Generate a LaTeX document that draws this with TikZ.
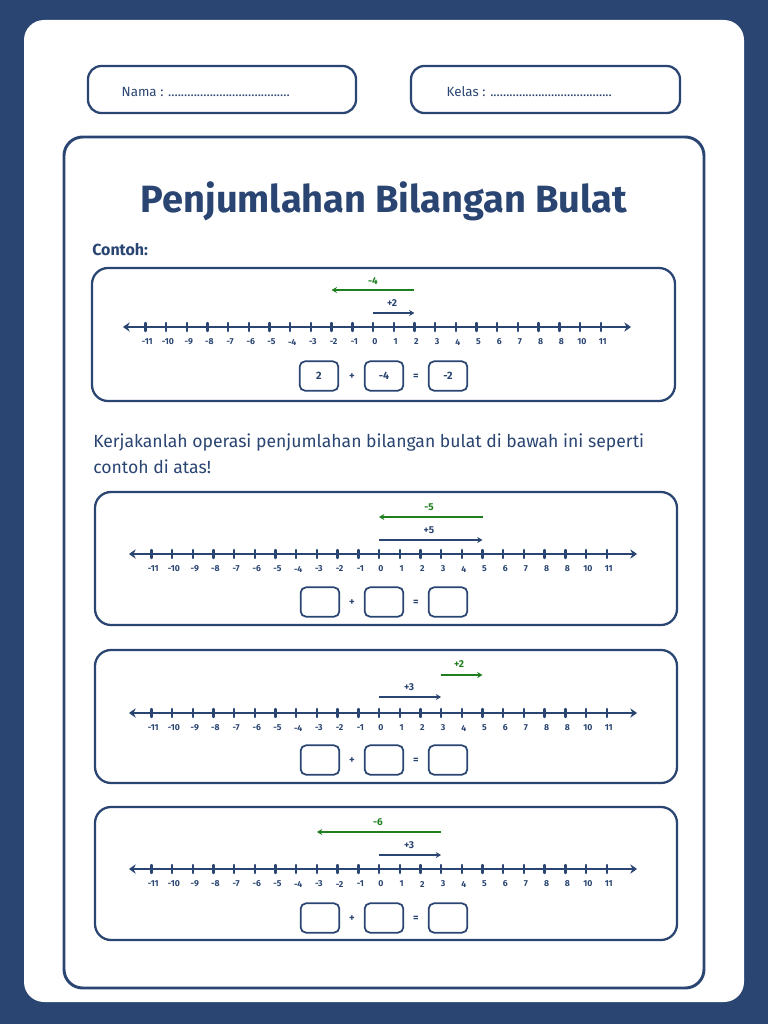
\documentclass[tikz,border=0pt]{standalone}
\usepackage{fontspec}
\setmainfont{Fira Sans}
\usetikzlibrary{arrows.meta}
\definecolor{navy}{HTML}{2A4572}
\definecolor{grn}{HTML}{1F7F1F}
\tikzset{
 frame/.style={draw=navy,line width=1.7pt,rounded corners=12pt,fill=white},
 ansbox/.style={draw=navy,line width=1.3pt,rounded corners=4pt,minimum width=29pt,minimum height=22pt,text=navy,font=\fontsize{8}{9}\selectfont\bfseries},
 lbl/.style={text=navy,font=\fontsize{6.5}{7}\selectfont\bfseries,inner sep=0pt},
 opl/.style={text=navy,font=\fontsize{8}{9}\selectfont\bfseries,inner sep=0pt},
 glbl/.style={text=grn,font=\fontsize{7.5}{8}\selectfont\bfseries,inner sep=0pt},
 axis/.style={draw=navy,line width=2pt,{Stealth[length=5pt,width=7pt]}-{Stealth[length=5pt,width=7pt]}},
 barrow/.style={draw=navy,line width=1.1pt,-{Stealth[length=4pt,width=4.5pt]}},
 garrow/.style={draw=grn,line width=1.1pt,-{Stealth[length=4pt,width=4.5pt]}},
}
\newcommand{\numline}[3]{% #1 prefix, #2 zero x, #3 line y
 \coordinate (#1L) at (#2-250,#3);
 \coordinate (#1R) at (#2+258,#3);
 \draw[axis] (#1L) -- (#1R);
 \foreach \k/\t in {-11/-11,-10/-10,-9/-9,-8/-8,-7/-7,-6/-6,-5/-5,-4/-4,-3/-3,-2/-2,-1/-1,0/0,1/1,2/2,3/3,4/4,5/5,6/6,7/7,8/8,9/8,10/10,11/11}{
  \coordinate (#1t\k) at ({#2+20.7*\k},#3);
  \draw[navy,line width=1.8pt,line cap=round] ({#2+20.7*\k},#3-4) -- ({#2+20.7*\k},#3+4);
  \node[lbl] (#1n\k) at ({#2+20.7*\k+2},#3+15) {\t};
 }
}
\begin{document}
\begin{tikzpicture}[x=0.75pt,y=-0.75pt]
\fill[navy] (0,0) rectangle (768,1024);
\useasboundingbox (0,0) rectangle (768,1024);
\fill[white,rounded corners=15pt] (24,20) rectangle (744,1002);
\draw[frame,rounded corners=10pt] (88,66) rectangle (356,113);
\draw[frame,rounded corners=10pt] (411,66) rectangle (680,113);
\node[text=navy,font=\fontsize{10}{12}\selectfont,anchor=west] (nama) at (117,92) {Nama : ......................................};
\node[text=navy,font=\fontsize{10}{12}\selectfont,anchor=west] (kelas) at (442,92) {Kelas : ......................................};
\draw[frame,line width=2.2pt,rounded corners=14pt] (64,137) rectangle (704,988);
\node[text=navy,font=\fontsize{28.5}{34}\selectfont\bfseries] (title) at (384,201) {Penjumlahan Bilangan Bulat};
\node[text=navy,font=\fontsize{12}{14}\selectfont\bfseries,anchor=west,inner sep=0pt] (contoh) at (92,250) {Contoh:};
\node[text=navy,font=\fontsize{13.2}{19}\selectfont,anchor=north west,align=left,inner sep=0pt] (instr) at (93,434) {Kerjakanlah operasi penjumlahan bilangan bulat di bawah ini seperti\\contoh di atas!};
% example
\draw[frame] (92,268) rectangle (675,401);
\numline{a}{373}{327}
\coordinate (ag1) at (373+41.4,290); \coordinate (ag2) at (373-41.4,290);
\draw[garrow] (ag1) -- (ag2); \node[glbl] (agl) at (373,281) {-4};
\coordinate (ab1) at (373,313); \coordinate (ab2) at (373+41.4,313);
\draw[barrow] (ab1) -- (ab2); \node[lbl,font=\fontsize{7.5}{8}\selectfont\bfseries] (abl) at (392,303) {+2};
\node[ansbox] (a1) at (319,376) {2}; \node[opl] (ap) at (352,377) {+};
\node[ansbox] (a2) at (384,376) {-4}; \node[opl] (ae) at (416,377) {=};
\node[ansbox] (a3) at (448,376) {-2};
% ex1
\draw[frame] (95,492) rectangle (677,625);
\numline{b}{379}{554}
\coordinate (bg1) at (379+103.5,517); \coordinate (bg2) at (379,517);
\draw[garrow] (bg1) -- (bg2); \node[glbl] (bgl) at (429,507) {-5};
\coordinate (bb1) at (379,540); \coordinate (bb2) at (379+103.5,540);
\draw[barrow] (bb1) -- (bb2); \node[lbl,font=\fontsize{7.5}{8}\selectfont\bfseries] (bbl) at (429,530) {+5};
\node[ansbox] (b1) at (320,602) {}; \node[opl] (bp) at (352,603) {+};
\node[ansbox] (b2) at (384,602) {}; \node[opl] (be) at (416,603) {=};
\node[ansbox] (b3) at (448,602) {};
% ex2
\draw[frame] (95,650) rectangle (677,783);
\numline{c}{379}{713}
\coordinate (cg1) at (379+62.1,675); \coordinate (cg2) at (379+103.5,675);
\draw[garrow] (cg1) -- (cg2); \node[glbl] (cgl) at (459,664) {+2};
\coordinate (cb1) at (379,697); \coordinate (cb2) at (379+62.1,697);
\draw[barrow] (cb1) -- (cb2); \node[lbl,font=\fontsize{7.5}{8}\selectfont\bfseries] (cbl) at (409,687) {+3};
\node[ansbox] (c1) at (320,760) {}; \node[opl] (cp) at (352,761) {+};
\node[ansbox] (c2) at (384,760) {}; \node[opl] (ce) at (416,761) {=};
\node[ansbox] (c3) at (448,760) {};
% ex3
\draw[frame] (95,807) rectangle (677,940);
\numline{d}{379}{869}
\coordinate (dg1) at (379+62.1,832); \coordinate (dg2) at (379-62.1,832);
\draw[garrow] (dg1) -- (dg2); \node[glbl] (dgl) at (378,822) {-6};
\coordinate (db1) at (379,855); \coordinate (db2) at (379+62.1,855);
\draw[barrow] (db1) -- (db2); \node[lbl,font=\fontsize{7.5}{8}\selectfont\bfseries] (dbl) at (409,845) {+3};
\node[ansbox] (d1) at (320,918) {}; \node[opl] (dp) at (352,919) {+};
\node[ansbox] (d2) at (384,918) {}; \node[opl] (de) at (416,919) {=};
\node[ansbox] (d3) at (448,918) {};
\end{tikzpicture}
\end{document}
